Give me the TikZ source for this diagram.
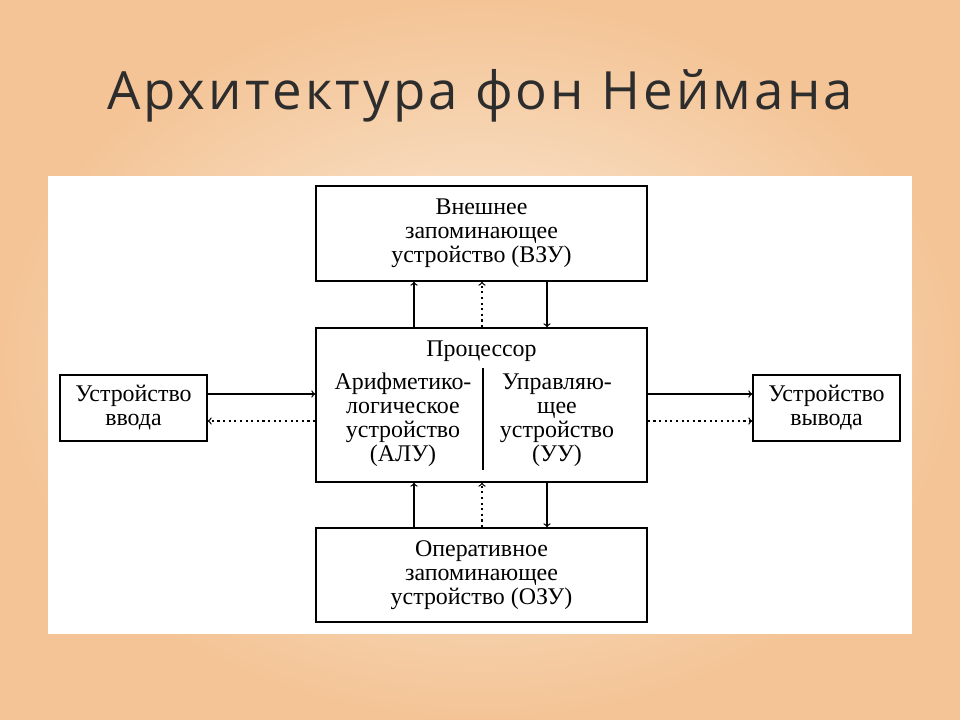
\documentclass[tikz,border=0pt]{standalone}
\usepackage{fontspec}
\setmainfont{Liberation Serif}
\newfontfamily\titlefont[LetterSpace=6]{Open Sans}
\usetikzlibrary{arrows,positioning,shapes}
\definecolor{peach}{RGB}{244,196,150}
\definecolor{peachlight}{RGB}{250,238,222}
\begin{document}
\begin{tikzpicture}[x=0.025cm,y=-0.025cm,>=to,thin]
\tikzstyle{every node}=[font=\fontsize{17}{17}\selectfont]
\tikzstyle{block}=[shape=rectangle,draw,line width=1.1pt,text=black,align=center,inner sep=0pt]
\tikzstyle{solidarr}=[->,line width=0.9pt]
\tikzstyle{dotarr}=[->,line width=0.9pt,dash pattern=on 1.5pt off 2.5pt]

% background
\shade[inner color=peachlight,outer color=peach] (0,0) rectangle (960,720);
\useasboundingbox (0,0) rectangle (960,720);
\fill[white] (48,176) rectangle (912,634);
\node (title) at (480,96) {\titlefont\fontsize{37.5}{40}\selectfont\color[RGB]{45,45,45}Архитектура фон Неймана};

\node[block,minimum width=331*0.025cm,minimum height=95*0.025cm] (VZU) at (481.5,233.5) {Внешнее\\запоминающее\\устройство (ВЗУ)};
\node[block,minimum width=331*0.025cm,minimum height=154*0.025cm] (CPU) at (481.5,405) {};
\node[block,minimum width=331*0.025cm,minimum height=94*0.025cm] (OZU) at (481.5,575) {Оперативное\\запоминающее\\устройство (ОЗУ)};
\node[block,minimum width=147*0.025cm,minimum height=66*0.025cm] (IN) at (133.5,408) {Устройство\\ввода};
\node[block,minimum width=147*0.025cm,minimum height=66*0.025cm] (OUT) at (826.5,408) {Устройство\\вывода};

\node (cpuname) at (481.5,351) {Процессор};
\node (ALU) at (403,420) [align=center] {Арифметико-\\логическое\\устройство\\(АЛУ)};
\node (CU) at (557,420) [align=center] {Управляю-\\щее\\устройство\\(УУ)};
\draw[line width=0.9pt] (483,368) -- (483,470);

\path
(CPU.north -| 414,0) edge[solidarr] (VZU.south -| 414,0)
(CPU.north -| 482,0) edge[dotarr] (VZU.south -| 482,0)
(VZU.south -| 547,0) edge[solidarr] (CPU.north -| 547,0)
(OZU.north -| 414,0) edge[solidarr] (CPU.south -| 414,0)
(OZU.north -| 482,0) edge[dotarr] (CPU.south -| 482,0)
(CPU.south -| 547,0) edge[solidarr] (OZU.north -| 547,0)
(IN.east |- 0,394) edge[solidarr] (CPU.west |- 0,394)
(CPU.west |- 0,421) edge[dotarr] (IN.east |- 0,421)
(CPU.east |- 0,394) edge[solidarr] (OUT.west |- 0,394)
(CPU.east |- 0,421) edge[dotarr] (OUT.west |- 0,421);
\end{tikzpicture}
\end{document}
